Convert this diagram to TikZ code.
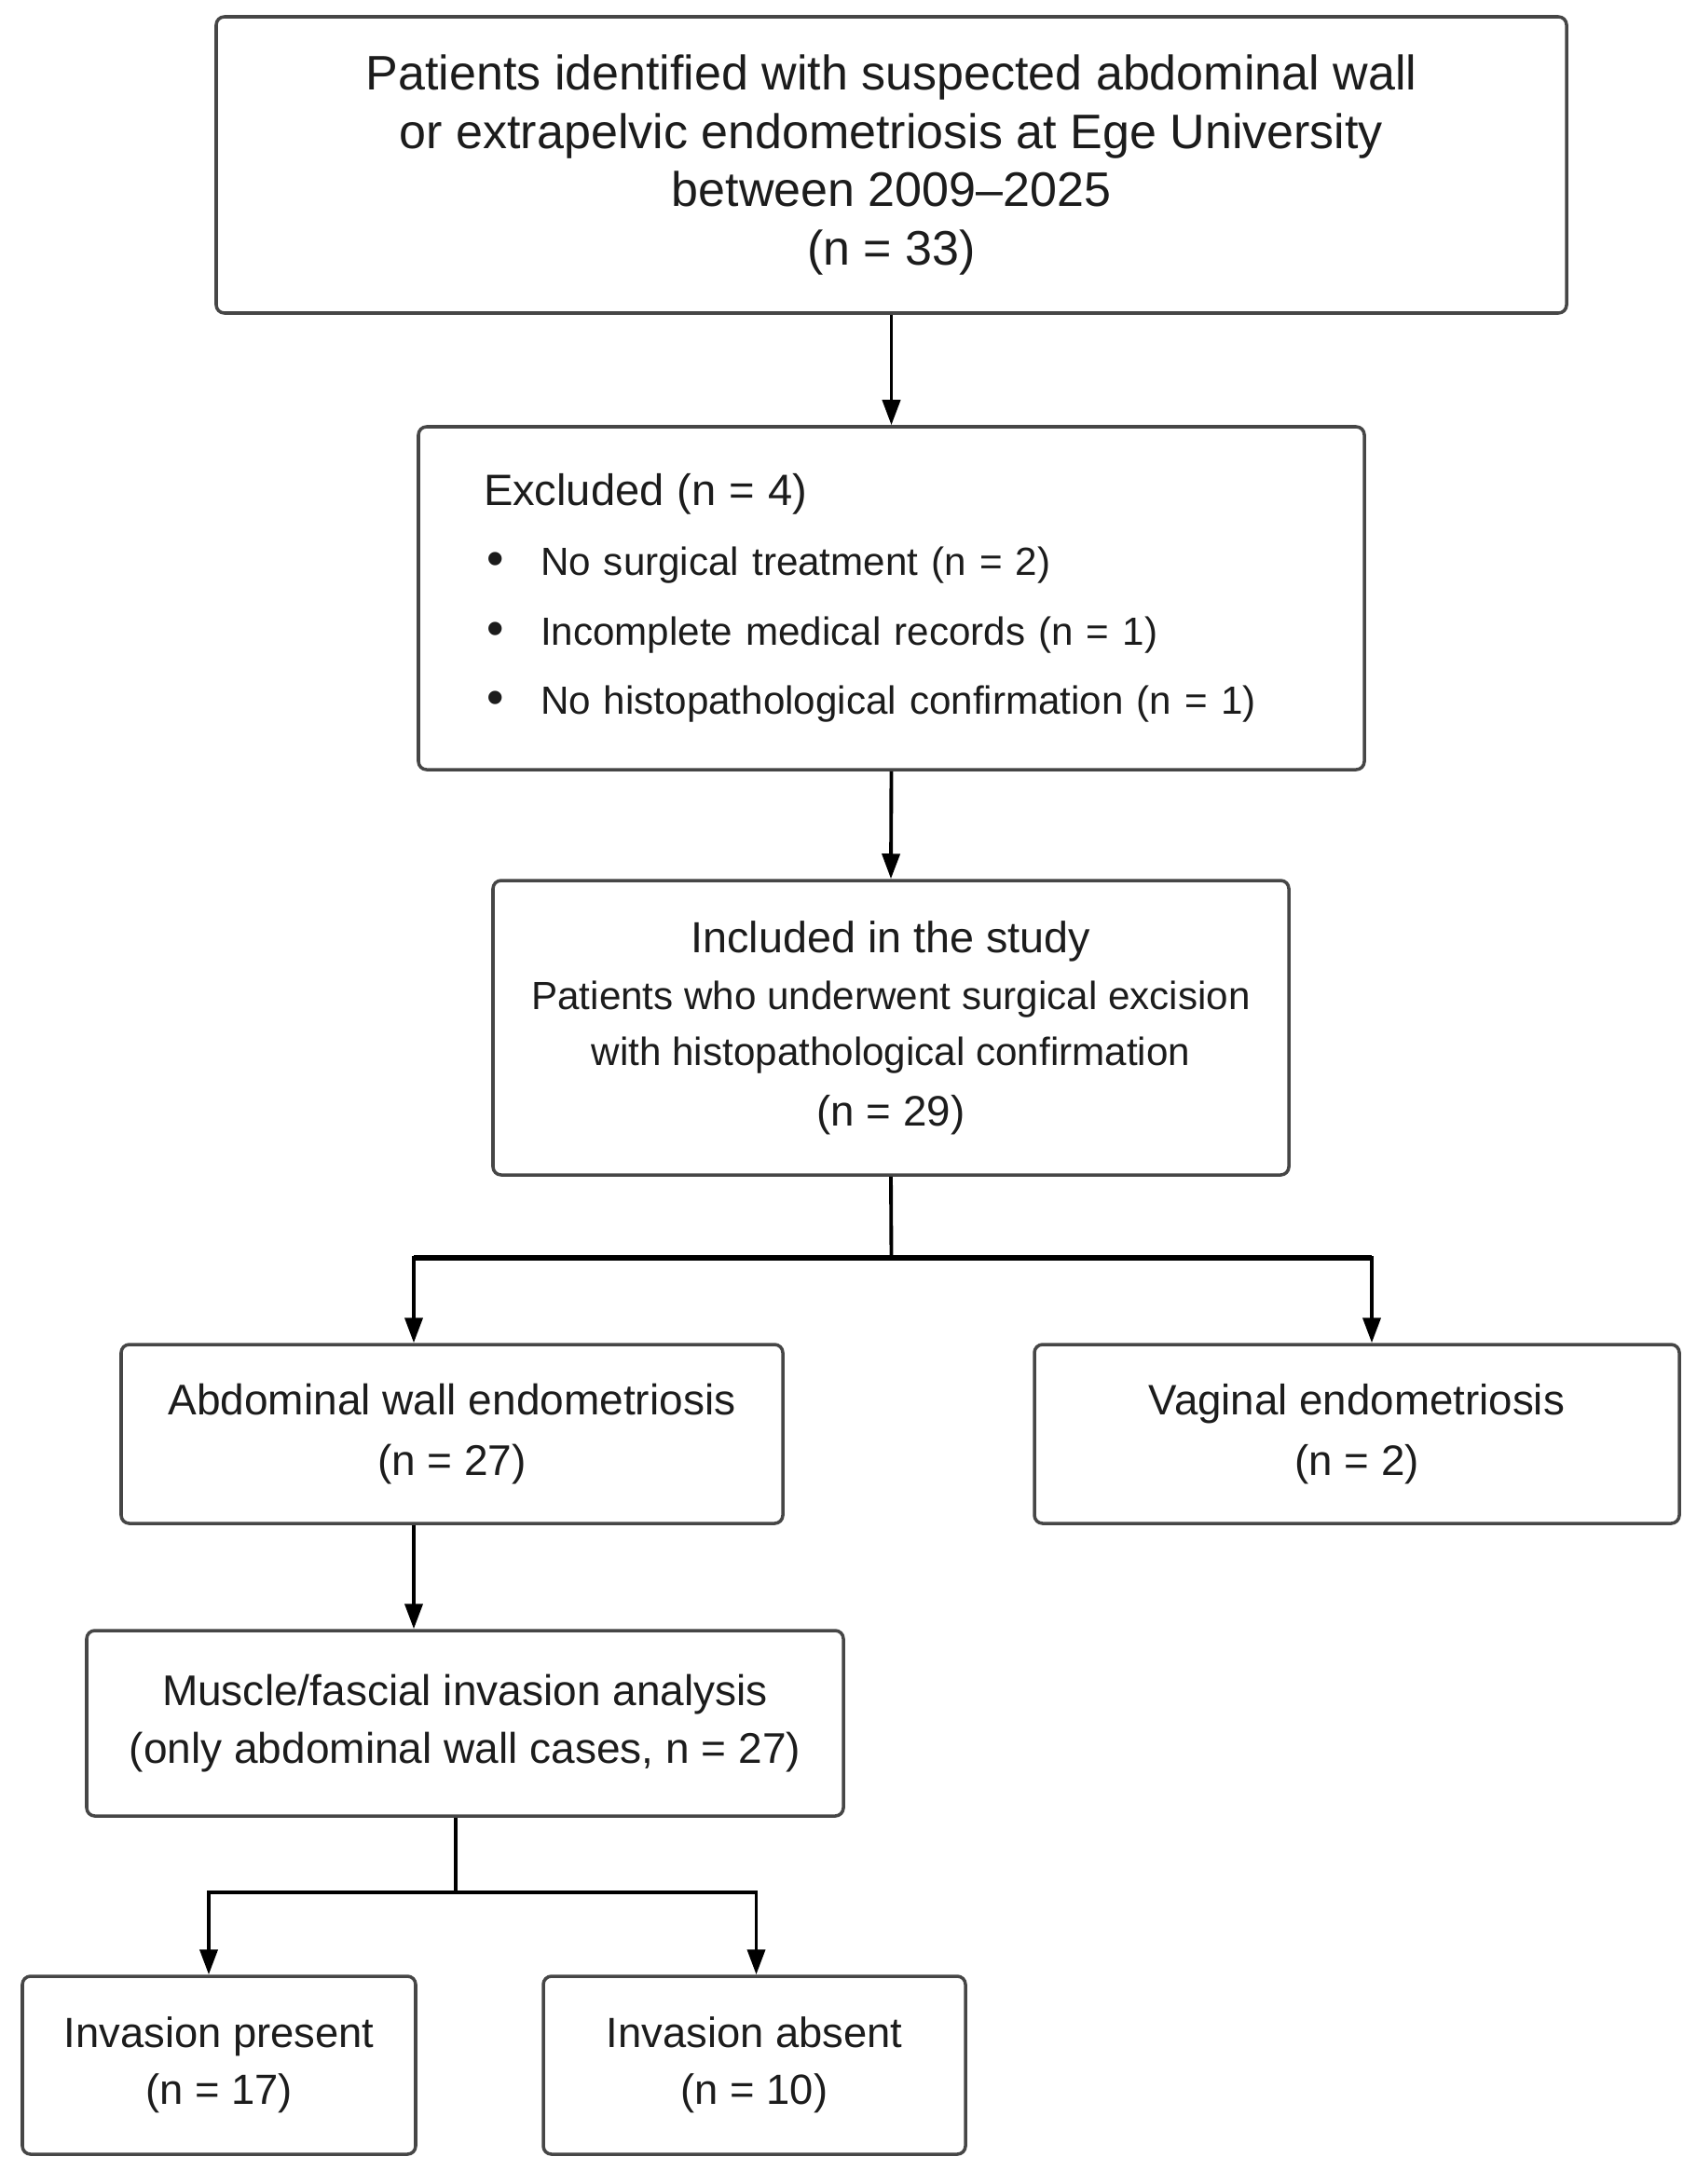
\documentclass[tikz,border=0pt]{standalone}
\usepackage{fontspec}
\setmainfont{Liberation Sans}
\usetikzlibrary{arrows.meta,positioning,calc}
\definecolor{edgegray}{RGB}{70,70,70}
\definecolor{inkblack}{RGB}{28,28,28}
\newcommand{\exitem}[1]{\hspace*{0.03cm}\makebox[0.58cm][l]{\scalebox{1.25}{\textbullet}}#1}
\tikzset{
  flowbox/.style={draw=edgegray, line width=1pt, rounded corners=2.5pt, fill=white,
                  text=inkblack, align=center, inner sep=0pt},
  flowarr/.style={-{Triangle[length=2.7mm,width=1.9mm]}, line width=1.1pt, black},
  flowbar/.style={line width=1.6pt, black},
}

\begin{document}
\begin{tikzpicture}
  \fill[white] (0,0) rectangle (18.2,-23.44);
  \useasboundingbox (0,0) rectangle (18.2,-23.44);

  % boxes
  \node[flowbox, minimum width=14.49cm, minimum height=3.18cm,
        font=\fontsize{14.8}{17.9}\selectfont] (pool) at (9.565,-1.77)
    {Patients identified with suspected abdominal wall\\
     or extrapelvic endometriosis at Ege University\\
     between 2009–2025\\
     (n = 33)};
  \node[flowbox, align=left, text width=8.75cm, inner xsep=0.7cm, minimum height=3.68cm,
        font=\fontsize{12}{21.3}\selectfont] (excl) at (9.565,-6.42)
    {{\fontsize{13.4}{21.3}\selectfont Excluded (n = 4)}\\
     \exitem{No surgical treatment (n = 2)}\\
     \exitem{Incomplete medical records (n = 1)}\\
     \exitem{No histopathological confirmation (n = 1)}};
  \node[flowbox, minimum width=8.54cm, minimum height=3.16cm,
        font=\fontsize{12}{17.3}\selectfont] (incl) at (9.56,-11.03)
    {{\fontsize{13.3}{17.3}\selectfont Included in the study}\\
     Patients who underwent surgical excision\\
     with histopathological confirmation\\[1pt]
     {\fontsize{13}{17.3}\selectfont (n = 29)}};
  \node[flowbox, minimum width=7.10cm, minimum height=1.92cm,
        font=\fontsize{13.1}{18.3}\selectfont] (abd) at (4.85,-15.39)
    {Abdominal wall endometriosis\\(n = 27)};
  \node[flowbox, minimum width=6.92cm, minimum height=1.92cm,
        font=\fontsize{13}{18.3}\selectfont] (vag) at (14.56,-15.39)
    {Vaginal endometriosis\\(n = 2)};
  \node[flowbox, minimum width=8.12cm, minimum height=1.99cm,
        font=\fontsize{13.1}{17.4}\selectfont] (musc) at (4.99,-18.495)
    {Muscle/fascial invasion analysis\\(only abdominal wall cases, n = 27)};
  \node[flowbox, minimum width=4.22cm, minimum height=1.91cm,
        font=\fontsize{12.9}{17.4}\selectfont] (inv) at (2.35,-22.165)
    {Invasion present\\(n = 17)};
  \node[flowbox, minimum width=4.53cm, minimum height=1.91cm,
        font=\fontsize{12.9}{17.4}\selectfont] (noinv) at (8.095,-22.165)
    {Invasion absent\\(n = 10)};

  % connectors
  \draw[flowarr] (pool.south) -- (excl.north);
  \draw[flowarr] (excl.south) -- (incl.north);

  \coordinate (split1) at (9.565,-13.50);
  \coordinate (abdin) at ([xshift=-0.41cm]abd.north);
  \coordinate (vagin) at ([xshift=0.16cm]vag.north);
  \draw[flowarr] (incl.south) -- (split1) -| (abdin);
  \draw[flowarr] (split1) -| (vagin);
  \draw[flowbar] (abdin |- split1) -- (vagin |- split1);

  \coordinate (abdout) at ([xshift=-0.41cm]abd.south);
  \draw[flowarr] (abdout) -- (abdout |- musc.north);

  \coordinate (muscout) at ([xshift=-0.10cm]musc.south);
  \coordinate (split2) at (4.89,-20.31);
  \coordinate (invin) at ([xshift=-0.11cm]inv.north);
  \coordinate (noinvin) at ([xshift=0.02cm]noinv.north);
  \draw[flowarr] (muscout) -- (split2) -| (invin);
  \draw[flowarr] (split2) -| (noinvin);
\end{tikzpicture}
\end{document}
